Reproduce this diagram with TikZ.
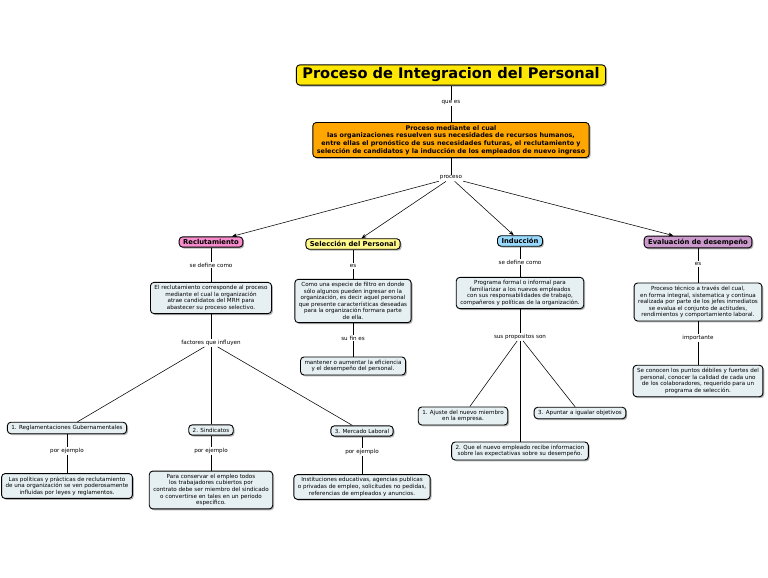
\documentclass[tikz,border=0pt]{standalone}
\usepackage{fontspec}
\setmainfont{DejaVu Sans}
\usetikzlibrary{shadows,arrows.meta}
\definecolor{boxc}{HTML}{E6EFF2}
\begin{document}
\begin{tikzpicture}[x=1pt,y=-1pt,
  bx/.style={draw=black,line width=0.9pt,rounded corners=3.5pt,fill=#1,align=center,font=\fontsize{5.6}{6.6}\selectfont,inner xsep=4pt,inner ysep=3pt,drop shadow={shadow xshift=1.4pt,shadow yshift=-1.4pt,fill=black!60}},
  bx/.default={boxc},
  tp/.style={bx=#1,font=\fontsize{6.8}{8}\selectfont\bfseries,inner xsep=4pt,inner ysep=2.5pt},
  lb/.style={font=\fontsize{5.6}{6.6}\selectfont,fill=white,inner sep=1pt},
  ln/.style={line width=0.55pt},
  ar/.style={line width=0.55pt,-{Stealth[length=5pt]}}]
\useasboundingbox (0,0) rectangle (768,578);
\node[bx=yellow!90!orange,font=\fontsize{14.6}{16}\selectfont\bfseries,inner xsep=6pt,inner ysep=3pt] (t) at (451,75) {Proceso de Integracion del Personal};
\node[lb] (qe) at (451,103) {que es};
\node[bx=orange!70!yellow,font=\fontsize{6.4}{7.6}\selectfont\bfseries] (m) at (451,140) {Proceso mediante el cual\\las organizaciones resuelven sus necesidades de recursos humanos,\\entre ellas el pronóstico de sus necesidades futuras, el reclutamiento y\\selección de candidatos y la inducción de los empleados de nuevo ingreso};
\node[lb] (pr) at (451,178) {proceso};
\node[tp=magenta!45] (r) at (211,242) {Reclutamiento};
\node[tp=yellow!45] (s) at (353,244) {Selección del Personal};
\node[tp=blue!35!cyan!40] (i) at (520,241) {Inducción};
\node[tp=violet!40] (e) at (698,242) {Evaluación de desempeño};
\draw[ln] (t)--(qe)--(m)--(pr);
\foreach \n in {r,s,i,e} \draw[ar] (pr)--(\n);
% Reclutamiento
\node[lb] (r1) at (211,265) {se define como};
\node[bx] (rd) at (211,298) {El reclutamiento corresponde al proceso\\mediante el cual la organización\\atrae candidatos del MRH para\\abastecer su proceso selectivo.};
\node[lb] (r2) at (211,343) {factores que influyen};
\node[bx] (f1) at (67,428) {1. Reglamentaciones Gubernamentales};
\node[bx] (f2) at (211,430) {2. Sindicatos};
\node[bx] (f3) at (362,431) {3. Mercado Laboral};
\node[lb] (p1) at (67,451) {por ejemplo};
\node[lb] (p2) at (211,451) {por ejemplo};
\node[lb] (p3) at (362,452) {por ejemplo};
\node[bx] (x1) at (67,486) {Las políticas y prácticas de reclutamiento\\de una organización se ven poderosamente\\influidas por leyes y reglamentos.};
\node[bx] (x2) at (211,490) {Para conservar el empleo todos\\los trabajadores cubiertos por\\contrato debe ser miembro del sindicado\\o convertirse en tales en un periodo\\específico.};
\node[bx] (x3) at (362,487) {Instituciones educativas, agencias publicas\\o privadas de empleo, solicitudes no pedidas,\\referencias de empleados y anuncios.};
\draw[ln] (r)--(r1)--(rd)--(r2);
\draw[ln] (r2)--(f1); \draw[ln] (r2)--(f2); \draw[ln] (r2)--(f3);
\draw[ln] (f1)--(p1)--(x1); \draw[ln] (f2)--(p2)--(x2); \draw[ln] (f3)--(p3)--(x3);
% Seleccion
\node[lb] (s1) at (353,266) {es};
\node[bx] (sd) at (353,301) {Como una especie de filtro en donde\\sólo algunos pueden ingresar en la\\organización, es decir aquel personal\\que presente características deseadas\\para la organización formara parte\\de ella.};
\node[lb] (s2) at (353,338) {su fin es};
\node[bx] (sf) at (353,366) {mantener o aumentar la eficiencia\\y el desempeño del personal.};
\draw[ln] (s)--(s1)--(sd)--(s2)--(sf);
% Induccion
\node[lb] (i1) at (520,262) {se define como};
\node[bx] (id) at (520,293) {Programa formal o informal para\\familiarizar a los nuevos empleados\\con sus responsabilidades de trabajo,\\compañeros y políticas de la organización.};
\node[lb] (i2) at (520,337) {sus propositos son};
\node[bx] (g1) at (463,416) {1. Ajuste del nuevo miembro\\en la empresa.};
\node[bx] (g3) at (580,413) {3. Apuntar a igualar objetivos};
\node[bx] (g2) at (520,451) {2. Que el nuevo empleado recibe informacion\\sobre las expectativas sobre su desempeño.};
\draw[ln] (i)--(i1)--(id)--(i2);
\draw[ln] (i2)--(g1); \draw[ln] (i2)--(g2); \draw[ln] (i2)--(g3);
% Evaluacion
\node[lb] (e1) at (698,264) {es};
\node[bx] (ed) at (698,302) {Proceso técnico a través del cual,\\en forma integral, sistematica y continua\\realizada por parte de los jefes inmediatos\\se evalua el conjunto de actitudes,\\rendimientos y comportamiento laboral.};
\node[lb] (e2) at (698,338) {importante};
\node[bx] (ei) at (698,381) {Se conocen los puntos débiles y fuertes del\\personal, conocer la calidad de cada uno\\de los colaboradores, requerido para un\\programa de selección.};
\draw[ln] (e)--(e1)--(ed)--(e2)--(ei);
\end{tikzpicture}
\end{document}
